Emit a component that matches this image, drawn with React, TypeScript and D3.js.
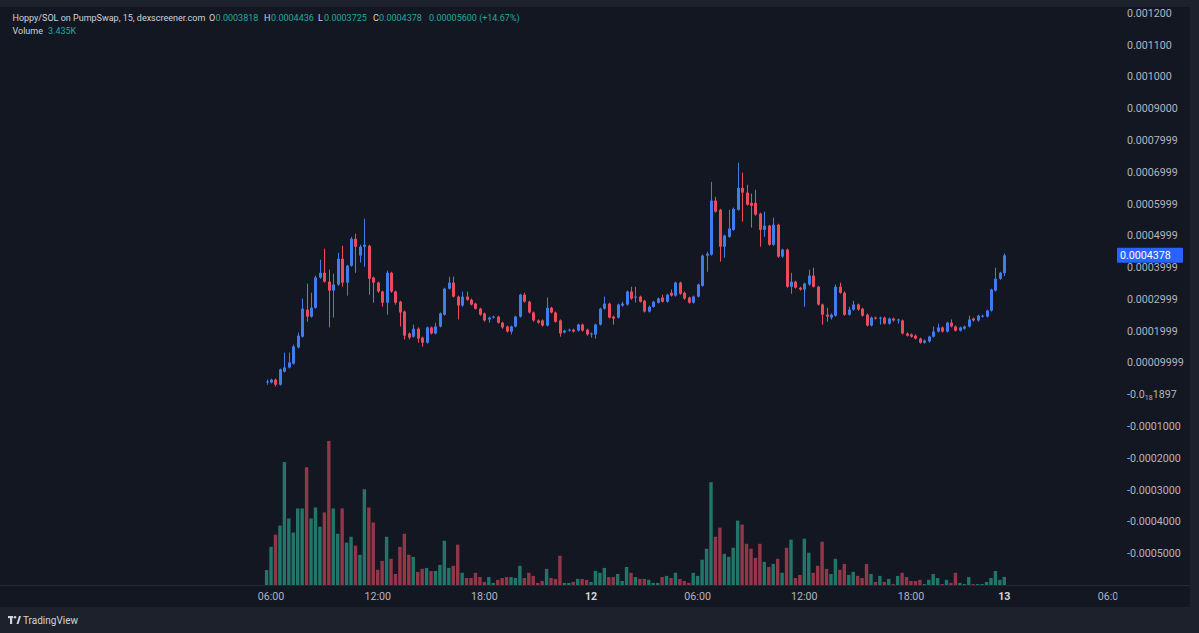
import React from "react";
import * as d3 from "d3";

// OHLC in units of 0.0001 SOL, 15-minute bars
const open = [0.38,0.38,0.47,0.31,0.72,0.85,0.97,1.48,1.82,2.67,2.45,2.73,3.68,3.83,3.55,3.27,3.46,4.27,3.52,4.05,4.90,4.37,4.65,4.68,3.68,3.52,3.24,2.89,3.83,3.24,2.92,2.61,1.92,1.82,2.07,1.79,1.63,2.11,1.92,2.14,2.51,3.33,3.52,3.08,2.80,3.08,2.98,2.86,2.70,2.55,2.36,2.42,2.45,2.26,2.14,1.98,2.14,2.45,3.14,2.92,2.58,2.33,2.33,2.17,2.73,2.58,2.33,1.95,2.01,2.04,2.01,2.20,2.04,1.89,1.89,2.20,2.70,2.86,2.45,2.42,2.80,2.83,3.24,3.05,3.08,2.95,2.61,2.76,2.89,3.05,2.92,3.20,3.11,3.52,3.20,3.05,2.89,3.08,3.42,4.37,4.40,6.10,5.81,4.65,4.96,5.18,5.81,6.50,6.35,6.03,6.03,5.69,5.18,5.31,4.71,5.34,4.34,4.56,3.39,3.55,3.36,3.30,3.46,3.74,3.39,2.83,2.51,2.42,2.48,3.39,3.20,2.51,2.67,2.83,2.70,2.51,2.17,2.42,2.39,2.42,2.23,2.39,2.33,2.33,1.92,1.89,1.85,1.76,1.63,1.67,1.82,1.98,2.11,1.98,2.26,2.14,2.01,2.07,2.14,2.39,2.33,2.45,2.45,2.64,3.27,3.64,3.818];
const high = [0.47,0.50,0.50,0.82,1.32,1.32,1.57,1.95,3.02,3.49,3.20,3.74,4.24,4.59,3.93,3.80,4.46,4.68,4.08,4.96,5.06,4.71,5.53,4.71,3.71,3.55,3.27,3.90,3.86,3.27,2.95,2.64,1.95,2.20,2.11,1.82,2.14,2.14,2.26,2.58,3.36,3.71,3.71,3.11,3.24,3.24,3.02,2.89,2.73,2.58,2.45,2.48,2.48,2.29,2.17,2.17,2.48,3.17,3.20,2.95,2.61,2.36,2.36,3.05,2.76,2.61,2.36,2.04,2.07,2.07,2.23,2.23,2.07,1.95,2.23,2.73,3.08,2.89,2.48,2.86,2.92,3.27,3.39,3.39,3.11,2.98,2.80,2.95,3.05,3.14,3.17,3.30,3.55,3.55,3.24,3.08,3.11,3.49,4.40,4.49,6.69,6.22,5.84,5.03,5.81,5.88,7.29,6.98,6.60,6.32,6.44,5.72,5.75,5.34,5.56,5.37,4.59,4.59,3.83,3.58,3.39,3.52,3.93,3.99,3.42,2.86,2.73,2.55,3.46,3.52,3.24,2.76,2.95,2.86,2.73,2.55,2.45,2.45,2.45,2.45,2.42,2.42,2.39,2.36,1.95,1.92,1.89,1.79,1.73,1.85,2.14,2.23,2.14,2.29,2.36,2.17,2.14,2.17,2.48,2.42,2.51,2.51,2.67,3.33,3.99,3.86,4.436];
const low = [0.31,0.35,0.25,0.28,0.69,0.82,0.94,1.45,1.79,2.29,2.42,2.70,3.64,3.52,2.11,2.42,3.42,3.39,3.11,4.02,3.83,4.15,4.02,3.14,2.89,3.20,2.76,2.51,3.20,2.83,2.14,1.73,1.73,1.79,1.63,1.51,1.60,1.89,1.89,2.11,2.48,3.30,3.05,2.36,2.76,2.95,2.80,2.67,2.48,2.29,2.26,2.39,2.23,2.07,1.95,1.89,2.11,2.42,2.89,2.55,2.29,2.23,2.14,2.14,2.55,2.26,1.82,1.92,1.98,1.95,1.98,1.98,1.85,1.79,1.76,2.17,2.67,2.39,2.20,2.39,2.76,2.80,2.98,2.89,2.89,2.58,2.58,2.73,2.86,2.89,2.89,3.08,3.08,3.14,2.98,2.86,2.86,3.05,3.39,3.86,4.37,5.72,4.18,4.30,4.93,5.15,5.78,5.44,5.94,5.25,5.62,4.65,4.96,4.68,4.68,4.30,4.30,3.36,3.17,3.33,3.27,2.76,3.42,3.36,2.80,2.20,2.29,2.36,2.45,3.17,2.48,2.48,2.64,2.64,2.45,2.14,2.14,2.36,2.20,2.20,2.20,2.29,2.23,1.89,1.82,1.79,1.73,1.60,1.60,1.63,1.79,1.95,1.95,1.95,2.11,1.98,1.98,2.04,2.11,2.29,2.29,2.42,2.42,2.61,3.24,3.61,3.725];
const close = [0.41,0.47,0.31,0.79,0.85,1.01,1.51,1.85,2.70,2.45,2.73,3.68,3.83,3.55,3.27,3.46,4.27,3.52,4.05,4.90,4.65,4.65,4.71,3.64,3.52,3.24,2.89,3.83,3.24,2.89,2.58,1.85,1.79,2.07,1.76,1.63,2.11,1.92,2.14,2.55,3.33,3.52,3.08,2.80,3.08,2.98,2.83,2.70,2.51,2.33,2.42,2.45,2.26,2.11,1.98,2.14,2.45,3.14,2.92,2.58,2.33,2.26,2.17,2.73,2.58,2.29,1.92,2.01,2.04,1.98,2.20,2.01,1.89,1.92,2.20,2.70,2.86,2.42,2.39,2.83,2.86,3.24,3.02,3.08,2.92,2.61,2.76,2.92,3.02,2.92,3.14,3.11,3.52,3.17,3.02,2.89,3.08,3.46,4.37,4.43,6.10,5.75,4.65,5.00,5.22,5.84,6.50,6.35,5.97,5.94,5.66,5.18,5.31,4.71,5.34,4.34,4.56,3.39,3.55,3.36,3.30,3.49,3.74,3.39,2.83,2.51,2.45,2.51,3.39,3.20,2.51,2.67,2.83,2.67,2.48,2.17,2.42,2.39,2.42,2.23,2.39,2.33,2.36,1.92,1.85,1.82,1.76,1.63,1.70,1.82,1.98,2.11,1.98,2.26,2.14,2.01,2.11,2.14,2.36,2.33,2.48,2.48,2.64,3.30,3.64,3.83,4.378];
// volume in thousands
const volume = [6.4,16.3,21.5,25.4,52.5,28.4,22.4,32.7,32.7,50.3,28.4,33.1,24.9,31.0,61.5,32.7,21.9,32.7,18.1,20.6,16.8,12.9,40.9,33.1,26.7,6.5,10.3,20.6,11.2,4.7,16.3,21.9,12.9,12.0,5.6,6.9,7.3,6.0,6.0,8.6,18.9,7.3,8.2,17.2,5.2,3.0,3.0,5.2,3.4,1.3,3.4,0.9,2.2,3.0,3.4,3.4,3.0,8.2,3.0,5.2,3.9,0.9,1.7,6.9,3.0,2.6,12.5,0.9,0.9,1.3,2.6,2.6,2.2,1.3,6.0,5.2,7.3,3.4,3.4,4.7,1.7,7.7,5.2,3.4,2.6,2.6,2.2,0.9,0.9,3.4,3.9,3.0,5.2,2.6,1.7,0.9,5.2,3.9,10.8,15.5,43.9,20.6,24.5,13.3,12.0,15.9,27.5,25.8,17.6,15.5,11.6,17.6,9.9,7.7,9.0,11.2,5.2,15.9,19.4,3.0,4.3,19.8,13.8,5.2,8.2,18.5,6.9,4.7,11.2,6.5,9.0,4.3,5.6,3.9,3.0,9.0,4.7,1.3,3.9,1.3,2.6,0.4,3.9,5.2,3.4,1.7,1.7,2.2,0.4,2.2,4.7,3.0,0.4,2.2,0.9,5.2,0.9,0.4,3.4,0.4,0.4,0.4,1.3,3.0,6.0,2.2,3.435];

const timeTickIndex = [1, 25, 49, 73, 97, 121, 145, 166, 190];
const timeTickLabels = ["06:00", "12:00", "18:00", "12", "06:00", "12:00", "18:00", "13", "06:00"];
const timeTickBold = [false, false, false, true, false, false, false, true, false];

const priceTicks = [0.0012, 0.0011, 0.001, 0.0009, 0.0008, 0.0007, 0.0006, 0.0005, 0.0004, 0.0003, 0.0002, 0.0001, 0, -0.0001, -0.0002, -0.0003, -0.0004, -0.0005];
const priceTickLabels = ["0.001200", "0.001100", "0.001000", "0.0009000", "0.0007999", "0.0006999", "0.0005999", "0.0004999", "0.0003999", "0.0002999", "0.0001999", "0.00009999", "-0.0|18|1897", "-0.0001000", "-0.0002000", "-0.0003000", "-0.0004000", "-0.0005000"];

const lastPrice = 0.0004378;

const UP = "#3f7cec";
const DOWN = "#eb4b5a";
const VOL_UP = "#21766a";
const VOL_DOWN = "#933748";
const BG = "#131722";
const OUTER = "#1d212b";
const TEXT = "#b2b5be";
const FONT = "Roboto, 'Liberation Sans', sans-serif";

export default function App() {
  const x = d3.scaleLinear().domain([0, 190]).range([266.6, 266.6 + 4.444 * 190]);
  const y = d3.scaleLinear().domain([-0.0005, 0.0012]).range([553.5, 13]);
  const maxVol = d3.max(volume) as number;
  const yv = d3.scaleLinear().domain([0, maxVol]).range([585, 441]);
  const bodyW = 3;
  const volW = 3.4;
  const n = close.length;
  const idx = d3.range(n);
  const s = 1e-4;
  const hy = 18.3;
  const vy = 30.7;

  return (
    <svg width={1199} height={633} style={{ position: "absolute", left: 0, top: 0, display: "block" }} fontFamily={FONT}>
      <rect x={0} y={0} width={1199} height={633} fill={OUTER} />
      <rect x={0} y={7} width={1190} height={600} fill={BG} />
      <defs>
        <clipPath id="timeclip">
          <rect x={0} y={586} width={1117.5} height={21} />
        </clipPath>
      </defs>
      <line x1={0} x2={1190} y1={585.5} y2={585.5} stroke="#242835" strokeWidth={1} />

      {/* volume */}
      {idx.map((i) => {
        const up = close[i] >= open[i];
        const top = yv(volume[i]);
        return (
          <rect key={"v" + i} x={x(i) - volW / 2} y={top} width={volW} height={Math.max(1, yv(0) - top)} fill={up ? VOL_UP : VOL_DOWN} />
        );
      })}

      {/* candles */}
      {idx.map((i) => {
        const up = close[i] >= open[i];
        const c = up ? UP : DOWN;
        const yo = y(open[i] * s);
        const yc = y(close[i] * s);
        const top = Math.min(yo, yc);
        const h = Math.max(1, Math.abs(yo - yc));
        const cx = Math.round(x(i)) + 0.5;
        return (
          <g key={"c" + i}>
            <line x1={cx} x2={cx} y1={y(high[i] * s)} y2={y(low[i] * s)} stroke={c} strokeWidth={1} />
            <rect x={cx - bodyW / 2} y={top} width={bodyW} height={h} fill={c} />
          </g>
        );
      })}

      {/* price axis */}
      {priceTicks.map((v, k) => {
        const lab = priceTickLabels[k];
        const parts = lab.split("|");
        return (
          <text key={"p" + k} x={1127} y={y(v)} dy="0.35em" fontSize={10.7} fill={TEXT}>
            {parts.length === 3 ? (
              <>
                <tspan>{parts[0]}</tspan>
                <tspan fontSize={7} dy={2}>{parts[1]}</tspan>
                <tspan dy={-2}>{parts[2]}</tspan>
              </>
            ) : (
              lab
            )}
          </text>
        );
      })}
      <rect x={1117} y={y(lastPrice) - 7.5} width={66} height={15} fill="#2962ff" rx={1} />
      <text x={1120} y={y(lastPrice)} dy="0.35em" fontSize={10.7} fill="#ffffff">
        {lastPrice.toFixed(7)}
      </text>

      {/* time axis */}
      <g clipPath="url(#timeclip)">
        {timeTickIndex.map((ti, k) => (
          <text key={"t" + k} x={x(ti)} y={596.5} dy="0.35em" textAnchor="middle" fontSize={10.7}
            fill={timeTickBold[k] ? "#d1d4dc" : TEXT} fontWeight={timeTickBold[k] ? 700 : 400}>
            {timeTickLabels[k]}
          </text>
        ))}
      </g>

      {/* header */}
      <g fontSize={9}>
        <text x={12.5} y={hy} dy="0.35em" fill="#d1d4dc">Hoppy/SOL on PumpSwap, 15, dexscreener.com</text>
        <text x={209} y={hy} dy="0.35em" fill="#d1d4dc">O</text>
        <text x={215.5} y={hy} dy="0.35em" fill="#26a69a">0.0003818</text>
        <text x={264} y={hy} dy="0.35em" fill="#d1d4dc">H</text>
        <text x={271} y={hy} dy="0.35em" fill="#26a69a">0.0004436</text>
        <text x={318} y={hy} dy="0.35em" fill="#d1d4dc">L</text>
        <text x={324} y={hy} dy="0.35em" fill="#26a69a">0.0003725</text>
        <text x={373} y={hy} dy="0.35em" fill="#d1d4dc">C</text>
        <text x={379} y={hy} dy="0.35em" fill="#26a69a">0.0004378</text>
        <text x={429} y={hy} dy="0.35em" fill="#26a69a">0.00005600 (+14.67%)</text>
        <text x={12.5} y={vy} dy="0.35em" fill="#d1d4dc">Volume</text>
        <text x={48} y={vy} dy="0.35em" fill="#26a69a">3.435K</text>
      </g>

      {/* footer logo */}
      <g fill="#d1d4dc">
        <rect x={8} y={616} width={5} height={2.2} />
        <rect x={10} y={616} width={2.2} height={8} />
        <circle cx={15} cy={617.3} r={1.3} />
        <polygon points="16.5,624 19,616 21,616 18.5,624" />
        <text x={23} y={620.5} dy="0.35em" fontSize={10}>TradingView</text>
      </g>
    </svg>
  );
}
